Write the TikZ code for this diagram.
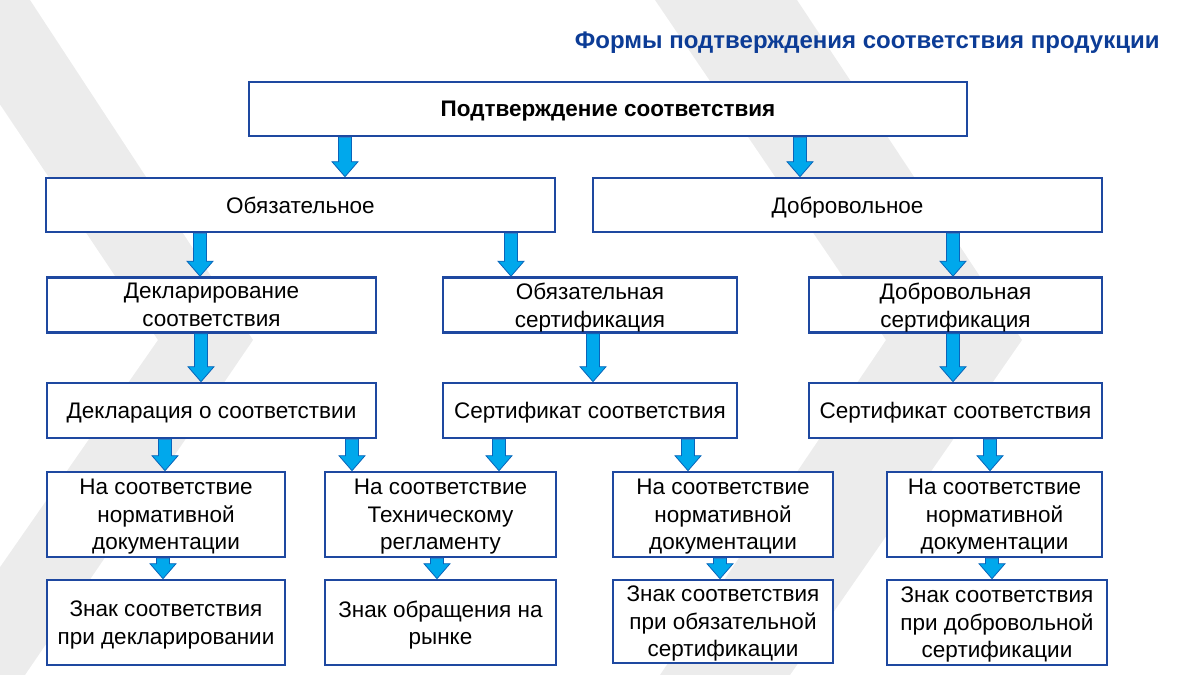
\documentclass[tikz,border=0pt]{standalone}
\usepackage{fontspec}
\setmainfont{Liberation Sans}
\usetikzlibrary{calc}
\definecolor{frame}{RGB}{30,72,160}
\definecolor{arrowfill}{RGB}{0,168,236}
\definecolor{arrowline}{RGB}{10,100,185}
\definecolor{titleblue}{RGB}{12,60,150}
\definecolor{stripe}{RGB}{236,236,236}
\tikzset{
    box/.style={draw=frame, line width=2.6pt, fill=white, align=center,
        inner sep=0pt, text depth=0pt, font=\fontsize{22.5}{27.5}\selectfont},
    flow/.style={draw=arrowline, line width=0.8pt, fill=arrowfill, line join=miter},
}
\newcommand\flowarrow[2]{%
    \path[flow] let \p1=#1, \p2=#2 in
        (\x1-6.5,\y1) -- (\x1-6.5,\y2+15) -- (\x1-13,\y2+15) -- (\x1,\y2)
        -- (\x1+13,\y2+15) -- (\x1+6.5,\y2+15) -- (\x1+6.5,\y1) -- cycle;}

\begin{document}
\begin{tikzpicture}[x=1pt, y=-1pt]
    \useasboundingbox (0,0) rectangle (1200,675);
    \fill[stripe] (30,0) -- (253,340) -- (25,675) -- (-75,675) -- (158,340) -- (-70,0) -- cycle;
    \fill[stripe] (797,0) -- (1022,340) -- (790,675) -- (660,675) -- (886,340) -- (655,0) -- cycle;
    \node[font=\bfseries\fontsize{24}{28}\selectfont, text=titleblue, anchor=east] (title)
        at (1163,43) {Формы подтверждения соответствия продукции};
    \node[box, minimum width=718pt, minimum height=54pt] (conf) at (608,109)
        {\bfseries Подтверждение соответствия};
    \node[box, minimum width=509pt, minimum height=54pt] (mand) at (300.5,205) {Обязательное};
    \node[box, minimum width=509pt, minimum height=54pt] (vol) at (847.5,205) {Добровольное};
    \node[box, minimum width=329pt, minimum height=55pt] (decl) at (211.5,305)
        {Декларирование\\соответствия};
    \node[box, minimum width=294pt, minimum height=55pt] (mcert) at (590,305)
        {Обязательная\\сертификация};
    \node[box, minimum width=293pt, minimum height=55pt] (vcert) at (955.5,305)
        {Добровольная\\сертификация};
    \node[box, minimum width=329pt, minimum height=55pt] (decdoc) at (211.5,410.5)
        {Декларация о соответствии};
    \node[box, minimum width=294pt, minimum height=55pt] (mcdoc) at (590,410.5)
        {Сертификат соответствия};
    \node[box, minimum width=293pt, minimum height=55pt] (vcdoc) at (955.5,410.5)
        {Сертификат соответствия};
    \node[box, minimum width=238pt, minimum height=85pt] (nd1) at (166,514.5)
        {На соответствие\\нормативной\\документации};
    \node[box, minimum width=231pt, minimum height=85pt] (tr) at (440.5,514.5)
        {На соответствие\\Техническому\\регламенту};
    \node[box, minimum width=220pt, minimum height=85pt] (nd2) at (723,514.5)
        {На соответствие\\нормативной\\документации};
    \node[box, minimum width=215pt, minimum height=85pt] (nd3) at (994.5,514.5)
        {На соответствие\\нормативной\\документации};
    \node[box, minimum width=238pt, minimum height=85pt] (mark1) at (166,622.5)
        {Знак соответствия\\при декларировании};
    \node[box, minimum width=231pt, minimum height=85pt] (mark2) at (440.5,622.5)
        {Знак обращения на\\рынке};
    \node[box, minimum width=220pt, minimum height=83pt] (mark3) at (723,621.5)
        {Знак соответствия\\при обязательной\\сертификации};
    \node[box, minimum width=220pt, minimum height=85pt] (mark4) at (997,622.5)
        {Знак соответствия\\при добровольной\\сертификации};
    \flowarrow{(conf.south -| 345,0)}{(mand.north -| 345,0)}
    \flowarrow{(conf.south -| 800,0)}{(vol.north -| 800,0)}
    \flowarrow{(mand.south -| 200,0)}{(decl.north -| 200,0)}
    \flowarrow{(mand.south -| 511,0)}{(mcert.north -| 511,0)}
    \flowarrow{(vol.south -| 953,0)}{(vcert.north -| 953,0)}
    \flowarrow{(decl.south -| 201,0)}{(decdoc.north -| 201,0)}
    \flowarrow{(mcert.south -| 593,0)}{(mcdoc.north -| 593,0)}
    \flowarrow{(vcert.south -| 953,0)}{(vcdoc.north -| 953,0)}
    \flowarrow{(decdoc.south -| 165,0)}{(nd1.north -| 165,0)}
    \flowarrow{(decdoc.south -| 352,0)}{(tr.north -| 352,0)}
    \flowarrow{(mcdoc.south -| 499,0)}{(tr.north -| 499,0)}
    \flowarrow{(mcdoc.south -| 688,0)}{(nd2.north -| 688,0)}
    \flowarrow{(vcdoc.south -| 990,0)}{(nd3.north -| 990,0)}
    \flowarrow{(nd1.south -| 163,0)}{(mark1.north -| 163,0)}
    \flowarrow{(tr.south -| 437,0)}{(mark2.north -| 437,0)}
    \flowarrow{(nd2.south -| 720,0)}{(mark3.north -| 720,0)}
    \flowarrow{(nd3.south -| 992,0)}{(mark4.north -| 992,0)}
\end{tikzpicture}
\end{document}
